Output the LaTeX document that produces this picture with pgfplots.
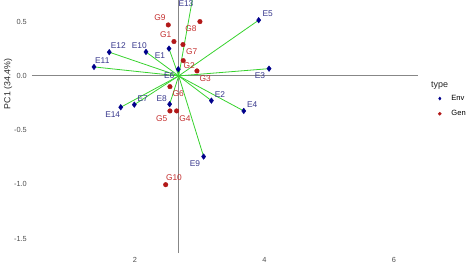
\documentclass[border=0pt]{standalone}
\usepackage{pgfplots}
\usepackage{pgfplotstable}
\pgfplotsset{compat=1.18}
\usepackage{fontspec}
\setmainfont{Liberation Sans}
\definecolor{segcol}{RGB}{55,210,45}
\definecolor{envcol}{RGB}{0,0,139}
\definecolor{gencol}{RGB}{178,24,24}
\definecolor{envlab}{RGB}{55,55,140}
\definecolor{genlab}{RGB}{195,45,45}
\definecolor{zerocol}{RGB}{135,135,135}
\definecolor{tickcol}{RGB}{77,77,77}

\pgfplotstableread{
label x y lx ly
E1 2.525 0.252 2.386 0.185
E2 3.180 -0.228 3.312 -0.169
E3 4.070 0.067 3.929 0.000
E4 3.680 -0.323 3.810 -0.265
E5 3.910 0.514 4.048 0.575
E6 2.668 0.062 2.529 0.000
E7 1.990 -0.265 2.119 -0.206
E8 2.535 -0.261 2.412 -0.206
E9 3.060 -0.744 2.926 -0.809
E10 2.170 0.221 2.066 0.283
E11 1.367 0.083 1.495 0.145
E12 1.603 0.219 1.742 0.283
E13 2.900 0.750 2.787 0.664
E14 1.780 -0.289 1.656 -0.353
}\envtable

\pgfplotstableread{
label x y lx ly
G1 2.602 0.317 2.474 0.381
G2 2.745 0.141 2.838 0.092
G3 2.957 0.046 3.085 -0.021
G4 2.643 -0.323 2.772 -0.390
G5 2.540 -0.323 2.412 -0.390
G6 2.540 -0.099 2.668 -0.163
G7 2.741 0.289 2.875 0.221
G8 3.003 0.501 2.864 0.436
G9 2.514 0.470 2.386 0.538
G10 2.474 -1.003 2.602 -0.938
}\gentable

\begin{document}
\begin{tikzpicture}
\begin{axis}[
  at={(32bp,13bp)}, anchor=south west,
  scale only axis, width=386bp, height=253bp,
  xmin=0.41, xmax=6.37, ymin=-1.633, ymax=0.70,
  axis line style={draw=none},
  major tick length=0pt,
  xtick={2,4,6}, xticklabels={2,4,6},
  ytick={-1.5,-1,-0.5,0,0.5}, yticklabels={-1.5,-1.0,-0.5,0.0,0.5},
  tick label style={font=\fontsize{7.4}{8}\selectfont, text=tickcol},
  xticklabel style={anchor=north, inner sep=0pt, yshift=-4.2bp},
  yticklabel style={anchor=east, inner sep=0pt, xshift=-5bp},
  ylabel={PC1 (34.4\%)},
  ylabel style={at={(axis description cs:-0.0622,0.668)}, anchor=center, font=\fontsize{8.8}{9}\selectfont, text=black!85},
  clip=true,
  legend style={draw=none, fill=none, at={(1,1)}, anchor=north west, xshift=20bp, yshift=-95bp,
    font=\fontsize{7.6}{8}\selectfont, inner sep=0pt, row sep=8.5bp, column sep=10bp,
    nodes={inner sep=0pt}, cells={anchor=west}},
  legend image code/.code={\draw[#1, mark size=1.6bp] plot coordinates {(0bp,0bp)};},
]
\addplot[zerocol, line width=1.1bp, forget plot] coordinates {(0.41,0) (6.37,0)};
\addplot[zerocol, line width=1.1bp, forget plot] coordinates {(2.675,-1.633) (2.675,0.70)};
\addplot[segcol, line width=0.8bp, -, forget plot,
  quiver={u={2.675-\thisrow{x}}, v={0-\thisrow{y}}}] table[x=x, y=y] {\envtable};
\addplot[only marks, mark=diamond*, mark size=2.8bp, envcol, mark options={fill=envcol, draw=envcol}] table[x=x, y=y] {\envtable};
\addlegendentry{Env}
\addplot[only marks, mark=*, mark size=2.3bp, gencol, mark options={fill=gencol, draw=gencol}] table[x=x, y=y] {\gentable};
\addlegendentry{Gen}
\addplot[only marks, mark=none, forget plot, nodes near coords, point meta=explicit symbolic,
  nodes near coords style={anchor=center, inner sep=0pt, text=envlab, font=\fontsize{8.4}{9}\selectfont}]
  table[x=lx, y=ly, meta=label] {\envtable};
\addplot[only marks, mark=none, forget plot, nodes near coords, point meta=explicit symbolic,
  nodes near coords style={anchor=center, inner sep=0pt, text=genlab, font=\fontsize{8.4}{9}\selectfont}]
  table[x=lx, y=ly, meta=label] {\gentable};
\end{axis}
\node[anchor=west, inner sep=0pt, font=\fontsize{9}{9}\selectfont, text=black!85] at (431bp,180bp) {type};
\pgfresetboundingbox
\path[use as bounding box] (0bp,0bp) rectangle (474bp,266bp);
\end{tikzpicture}
\end{document}
